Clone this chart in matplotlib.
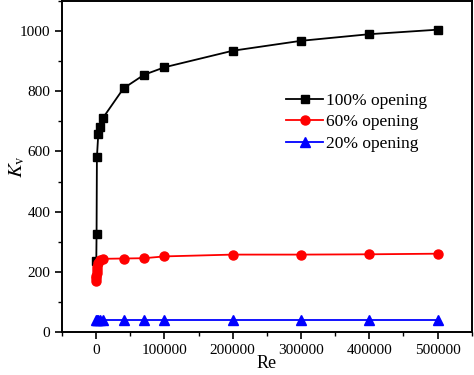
import matplotlib.pyplot as plt
from matplotlib.ticker import MultipleLocator

plt.rcParams['font.family'] = ['Liberation Serif', 'DejaVu Serif']
plt.rcParams['mathtext.fontset'] = 'stix'

# Re values and Kv for each opening
re_100 = [100, 500, 1000, 3000, 5000, 10000, 40000, 70000, 100000,
          200000, 300000, 400000, 500000]
kv_100 = [236, 325, 580, 658, 681, 712, 810, 855, 880, 935, 968, 990, 1005]

re_60 = [100, 200, 300, 500, 700, 1000, 2000, 5000, 10000, 40000, 70000,
         100000, 200000, 300000, 400000, 500000]
kv_60 = [170, 178, 186, 195, 205, 215, 230, 240, 243, 244, 245, 251,
         257, 257, 258, 260]

re_20 = [100, 1000, 3000, 5000, 10000, 40000, 70000, 100000,
         200000, 300000, 400000, 500000]
kv_20 = [38, 38, 38, 38, 38, 38, 38, 38, 38, 38, 38, 38]

fig = plt.figure(figsize=(4.74, 3.75), dpi=100)
ax = fig.add_axes([0.131, 0.115, 0.864, 0.882])

ax.plot(re_100, kv_100, color='black', marker='s', markersize=6,
        linewidth=1.3, label='100% opening')
ax.plot(re_60, kv_60, color='red', marker='o', markersize=6.5,
        linewidth=1.3, label='60% opening')
ax.plot(re_20, kv_20, color='blue', marker='^', markersize=6.5,
        linewidth=1.3, label='20% opening')

ax.set_xlim(-50000, 550000)
ax.set_ylim(0, 1100)
ax.xaxis.set_major_locator(MultipleLocator(100000))
ax.xaxis.set_minor_locator(MultipleLocator(50000))
ax.yaxis.set_minor_locator(MultipleLocator(100))
ax.set_yticks(range(0, 1001, 200))
ax.tick_params(which='major', direction='out', length=5, width=1.2,
               labelsize=11)
ax.tick_params(which='minor', direction='out', length=3, width=1.0)
for sp in ax.spines.values():
    sp.set_linewidth(1.4)

ax.set_xlabel('Re', fontsize=13, labelpad=-1)
ax.set_ylabel('$K_\\mathrm{v}$', fontsize=15)
ax.yaxis.set_label_coords(-0.085, 0.5)

ax.legend(loc='upper right', bbox_to_anchor=(0.93, 0.77), frameon=False,
          fontsize=12.5, handlelength=2.1, handletextpad=0.2,
          labelspacing=0.3)

fig.savefig('out.png', dpi=100)
